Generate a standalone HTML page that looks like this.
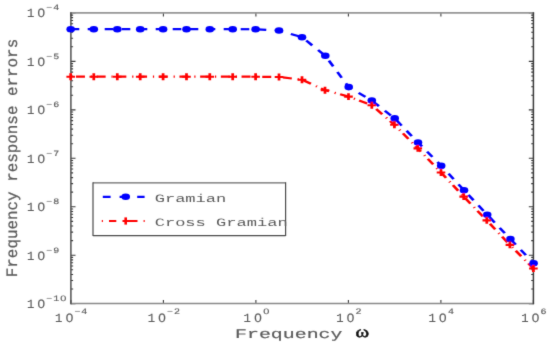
<!DOCTYPE html>
<html><head><meta charset="utf-8"><style>html,body{margin:0;padding:0;background:#fff;width:550px;height:346px;overflow:hidden}svg{display:block}</style></head>
<body>
<svg width="550" height="346" viewBox="0 0 550 346" text-rendering="geometricPrecision">
<rect width="550" height="346" fill="#fff"/>
<defs><filter id="soft" x="-4" y="-4" width="558" height="354" filterUnits="userSpaceOnUse"><feConvolveMatrix order="3" kernelMatrix="0.01134 0.08382 0.01134 0.08382 0.61935 0.08382 0.01134 0.08382 0.01134" divisor="1" edgeMode="none"/></filter></defs>
<g filter="url(#soft)">
<path d="M70.90 303.65V300.05M70.90 12.95V16.55M163.40 303.65V300.05M163.40 12.95V16.55M255.90 303.65V300.05M255.90 12.95V16.55M348.40 303.65V300.05M348.40 12.95V16.55M440.90 303.65V300.05M440.90 12.95V16.55M533.40 303.65V300.05M533.40 12.95V16.55M70.90 303.65H75.50M533.40 303.65H528.80M70.90 289.07H73.10M533.40 289.07H531.20M70.90 280.53H73.10M533.40 280.53H531.20M70.90 274.48H73.10M533.40 274.48H531.20M70.90 269.78H73.10M533.40 269.78H531.20M70.90 265.95H73.10M533.40 265.95H531.20M70.90 262.70H73.10M533.40 262.70H531.20M70.90 259.90H73.10M533.40 259.90H531.20M70.90 257.42H73.10M533.40 257.42H531.20M70.90 255.20H75.50M533.40 255.20H528.80M70.90 240.62H73.10M533.40 240.62H531.20M70.90 232.08H73.10M533.40 232.08H531.20M70.90 226.03H73.10M533.40 226.03H531.20M70.90 221.33H73.10M533.40 221.33H531.20M70.90 217.50H73.10M533.40 217.50H531.20M70.90 214.25H73.10M533.40 214.25H531.20M70.90 211.45H73.10M533.40 211.45H531.20M70.90 208.97H73.10M533.40 208.97H531.20M70.90 206.75H75.50M533.40 206.75H528.80M70.90 192.17H73.10M533.40 192.17H531.20M70.90 183.63H73.10M533.40 183.63H531.20M70.90 177.58H73.10M533.40 177.58H531.20M70.90 172.88H73.10M533.40 172.88H531.20M70.90 169.05H73.10M533.40 169.05H531.20M70.90 165.80H73.10M533.40 165.80H531.20M70.90 163.00H73.10M533.40 163.00H531.20M70.90 160.52H73.10M533.40 160.52H531.20M70.90 158.30H75.50M533.40 158.30H528.80M70.90 143.72H73.10M533.40 143.72H531.20M70.90 135.18H73.10M533.40 135.18H531.20M70.90 129.13H73.10M533.40 129.13H531.20M70.90 124.43H73.10M533.40 124.43H531.20M70.90 120.60H73.10M533.40 120.60H531.20M70.90 117.35H73.10M533.40 117.35H531.20M70.90 114.55H73.10M533.40 114.55H531.20M70.90 112.07H73.10M533.40 112.07H531.20M70.90 109.85H75.50M533.40 109.85H528.80M70.90 95.27H73.10M533.40 95.27H531.20M70.90 86.73H73.10M533.40 86.73H531.20M70.90 80.68H73.10M533.40 80.68H531.20M70.90 75.98H73.10M533.40 75.98H531.20M70.90 72.15H73.10M533.40 72.15H531.20M70.90 68.90H73.10M533.40 68.90H531.20M70.90 66.10H73.10M533.40 66.10H531.20M70.90 63.62H73.10M533.40 63.62H531.20M70.90 61.40H75.50M533.40 61.40H528.80M70.90 46.82H73.10M533.40 46.82H531.20M70.90 38.28H73.10M533.40 38.28H531.20M70.90 32.23H73.10M533.40 32.23H531.20M70.90 27.53H73.10M533.40 27.53H531.20M70.90 23.70H73.10M533.40 23.70H531.20M70.90 20.45H73.10M533.40 20.45H531.20M70.90 17.65H73.10M533.40 17.65H531.20M70.90 15.17H73.10M533.40 15.17H531.20M70.90 12.95H75.50M533.40 12.95H528.80" stroke="#3a3a3a" stroke-width="1.1" fill="none"/>
<path d="M70.20 12.85H534.10" stroke="#959595" stroke-width="1.6" fill="none"/>
<path d="M70.20 303.55H534.10" stroke="#8a8a8a" stroke-width="1.6" fill="none"/>
<path d="M70.90 12.35V304.25" stroke="#4c4c4c" stroke-width="1.45" fill="none"/>
<path d="M533.40 12.35V304.25" stroke="#3a3a3a" stroke-width="1.5" fill="none"/>
<text transform="translate(26.92,308.05) scale(0.970,1)" font-family="'Liberation Mono', monospace" font-size="12.6" fill="#5c5c5c" letter-spacing="3.1" stroke="#5c5c5c" stroke-width="0.15">1</text>
<text transform="translate(37.52,308.05) scale(1.115,1)" font-family="'Liberation Sans', sans-serif" font-size="12.096" fill="#5c5c5c" stroke="#5c5c5c" stroke-width="0.15">0</text>
<text transform="translate(46.27,301.15) scale(1.200,1)" font-family="'Liberation Mono', monospace" font-size="8.3" fill="#5c5c5c" letter-spacing="0.8" stroke="#5c5c5c" stroke-width="0.15">−1</text>
<text transform="translate(60.37,301.15) scale(1.380,1)" font-family="'Liberation Sans', sans-serif" font-size="7.968" fill="#5c5c5c" stroke="#5c5c5c" stroke-width="0.15">0</text>
<text transform="translate(26.92,259.60) scale(0.970,1)" font-family="'Liberation Mono', monospace" font-size="12.6" fill="#5c5c5c" letter-spacing="3.1" stroke="#5c5c5c" stroke-width="0.15">1</text>
<text transform="translate(37.52,259.60) scale(1.115,1)" font-family="'Liberation Sans', sans-serif" font-size="12.096" fill="#5c5c5c" stroke="#5c5c5c" stroke-width="0.15">0</text>
<text transform="translate(46.27,252.70) scale(1.200,1)" font-family="'Liberation Mono', monospace" font-size="8.3" fill="#5c5c5c" letter-spacing="0.8" stroke="#5c5c5c" stroke-width="0.15">−9</text>
<text transform="translate(26.92,211.15) scale(0.970,1)" font-family="'Liberation Mono', monospace" font-size="12.6" fill="#5c5c5c" letter-spacing="3.1" stroke="#5c5c5c" stroke-width="0.15">1</text>
<text transform="translate(37.52,211.15) scale(1.115,1)" font-family="'Liberation Sans', sans-serif" font-size="12.096" fill="#5c5c5c" stroke="#5c5c5c" stroke-width="0.15">0</text>
<text transform="translate(46.27,204.25) scale(1.200,1)" font-family="'Liberation Mono', monospace" font-size="8.3" fill="#5c5c5c" letter-spacing="0.8" stroke="#5c5c5c" stroke-width="0.15">−8</text>
<text transform="translate(26.92,162.70) scale(0.970,1)" font-family="'Liberation Mono', monospace" font-size="12.6" fill="#5c5c5c" letter-spacing="3.1" stroke="#5c5c5c" stroke-width="0.15">1</text>
<text transform="translate(37.52,162.70) scale(1.115,1)" font-family="'Liberation Sans', sans-serif" font-size="12.096" fill="#5c5c5c" stroke="#5c5c5c" stroke-width="0.15">0</text>
<text transform="translate(46.27,155.80) scale(1.200,1)" font-family="'Liberation Mono', monospace" font-size="8.3" fill="#5c5c5c" letter-spacing="0.8" stroke="#5c5c5c" stroke-width="0.15">−7</text>
<text transform="translate(26.92,114.25) scale(0.970,1)" font-family="'Liberation Mono', monospace" font-size="12.6" fill="#5c5c5c" letter-spacing="3.1" stroke="#5c5c5c" stroke-width="0.15">1</text>
<text transform="translate(37.52,114.25) scale(1.115,1)" font-family="'Liberation Sans', sans-serif" font-size="12.096" fill="#5c5c5c" stroke="#5c5c5c" stroke-width="0.15">0</text>
<text transform="translate(46.27,107.35) scale(1.200,1)" font-family="'Liberation Mono', monospace" font-size="8.3" fill="#5c5c5c" letter-spacing="0.8" stroke="#5c5c5c" stroke-width="0.15">−6</text>
<text transform="translate(26.92,65.80) scale(0.970,1)" font-family="'Liberation Mono', monospace" font-size="12.6" fill="#5c5c5c" letter-spacing="3.1" stroke="#5c5c5c" stroke-width="0.15">1</text>
<text transform="translate(37.52,65.80) scale(1.115,1)" font-family="'Liberation Sans', sans-serif" font-size="12.096" fill="#5c5c5c" stroke="#5c5c5c" stroke-width="0.15">0</text>
<text transform="translate(46.27,58.90) scale(1.200,1)" font-family="'Liberation Mono', monospace" font-size="8.3" fill="#5c5c5c" letter-spacing="0.8" stroke="#5c5c5c" stroke-width="0.15">−5</text>
<text transform="translate(26.92,17.35) scale(0.970,1)" font-family="'Liberation Mono', monospace" font-size="12.6" fill="#5c5c5c" letter-spacing="3.1" stroke="#5c5c5c" stroke-width="0.15">1</text>
<text transform="translate(37.52,17.35) scale(1.115,1)" font-family="'Liberation Sans', sans-serif" font-size="12.096" fill="#5c5c5c" stroke="#5c5c5c" stroke-width="0.15">0</text>
<text transform="translate(46.27,10.45) scale(1.200,1)" font-family="'Liberation Mono', monospace" font-size="8.3" fill="#5c5c5c" letter-spacing="0.8" stroke="#5c5c5c" stroke-width="0.15">−4</text>
<text transform="translate(55.08,321.70) scale(0.970,1)" font-family="'Liberation Mono', monospace" font-size="12.6" fill="#5c5c5c" letter-spacing="3.1" stroke="#5c5c5c" stroke-width="0.15">1</text>
<text transform="translate(65.68,321.70) scale(1.115,1)" font-family="'Liberation Sans', sans-serif" font-size="12.096" fill="#5c5c5c" stroke="#5c5c5c" stroke-width="0.15">0</text>
<text transform="translate(74.43,313.90) scale(1.200,1)" font-family="'Liberation Mono', monospace" font-size="8.3" fill="#5c5c5c" letter-spacing="0.8" stroke="#5c5c5c" stroke-width="0.15">−4</text>
<text transform="translate(147.68,321.70) scale(0.970,1)" font-family="'Liberation Mono', monospace" font-size="12.6" fill="#5c5c5c" letter-spacing="3.1" stroke="#5c5c5c" stroke-width="0.15">1</text>
<text transform="translate(158.28,321.70) scale(1.115,1)" font-family="'Liberation Sans', sans-serif" font-size="12.096" fill="#5c5c5c" stroke="#5c5c5c" stroke-width="0.15">0</text>
<text transform="translate(167.03,313.90) scale(1.200,1)" font-family="'Liberation Mono', monospace" font-size="8.3" fill="#5c5c5c" letter-spacing="0.8" stroke="#5c5c5c" stroke-width="0.15">−2</text>
<text transform="translate(243.62,321.70) scale(0.970,1)" font-family="'Liberation Mono', monospace" font-size="12.6" fill="#5c5c5c" letter-spacing="3.1" stroke="#5c5c5c" stroke-width="0.15">1</text>
<text transform="translate(254.22,321.70) scale(1.115,1)" font-family="'Liberation Sans', sans-serif" font-size="12.096" fill="#5c5c5c" stroke="#5c5c5c" stroke-width="0.15">0</text>
<text transform="translate(263.16,313.90) scale(1.380,1)" font-family="'Liberation Sans', sans-serif" font-size="7.968" fill="#5c5c5c" stroke="#5c5c5c" stroke-width="0.15">0</text>
<text transform="translate(336.21,321.70) scale(0.970,1)" font-family="'Liberation Mono', monospace" font-size="12.6" fill="#5c5c5c" letter-spacing="3.1" stroke="#5c5c5c" stroke-width="0.15">1</text>
<text transform="translate(346.81,321.70) scale(1.115,1)" font-family="'Liberation Sans', sans-serif" font-size="12.096" fill="#5c5c5c" stroke="#5c5c5c" stroke-width="0.15">0</text>
<text transform="translate(355.43,313.90) scale(1.200,1)" font-family="'Liberation Mono', monospace" font-size="8.3" fill="#5c5c5c" letter-spacing="0.8" stroke="#5c5c5c" stroke-width="0.15">2</text>
<text transform="translate(428.51,321.70) scale(0.970,1)" font-family="'Liberation Mono', monospace" font-size="12.6" fill="#5c5c5c" letter-spacing="3.1" stroke="#5c5c5c" stroke-width="0.15">1</text>
<text transform="translate(439.12,321.70) scale(1.115,1)" font-family="'Liberation Sans', sans-serif" font-size="12.096" fill="#5c5c5c" stroke="#5c5c5c" stroke-width="0.15">0</text>
<text transform="translate(447.93,313.90) scale(1.200,1)" font-family="'Liberation Mono', monospace" font-size="8.3" fill="#5c5c5c" letter-spacing="0.8" stroke="#5c5c5c" stroke-width="0.15">4</text>
<text transform="translate(521.20,321.70) scale(0.970,1)" font-family="'Liberation Mono', monospace" font-size="12.6" fill="#5c5c5c" letter-spacing="3.1" stroke="#5c5c5c" stroke-width="0.15">1</text>
<text transform="translate(531.80,321.70) scale(1.115,1)" font-family="'Liberation Sans', sans-serif" font-size="12.096" fill="#5c5c5c" stroke="#5c5c5c" stroke-width="0.15">0</text>
<text transform="translate(540.39,313.90) scale(1.200,1)" font-family="'Liberation Mono', monospace" font-size="8.3" fill="#5c5c5c" letter-spacing="0.8" stroke="#5c5c5c" stroke-width="0.15">6</text>
<text transform="translate(235.12,337.50) scale(1.506,1)" font-family="'Liberation Mono', monospace" font-size="13.2" fill="#5c5c5c" stroke="#5c5c5c" stroke-width="0.18">Frequency</text>
<text transform="translate(355.46,337.10) scale(1.300,1)" font-family="'Liberation Serif', serif" font-size="15.9" fill="#0a0a0a" stroke="#0a0a0a" stroke-width="0.45">ω</text>
<text transform="translate(16.8,277.21) rotate(-90) scale(1,1.0)" font-family="'Liberation Mono', monospace" font-size="15.9" fill="#5c5c5c" stroke="#5c5c5c" stroke-width="0.25">Frequency response errors</text>
<g transform="scale(1.3,1)">
<line x1="54.38" y1="29.20" x2="72.15" y2="29.20" stroke="#0000ff" stroke-width="2.2" stroke-dasharray="6.615 6.462" stroke-dashoffset="0.000"/>
<line x1="72.15" y1="29.20" x2="90.23" y2="29.20" stroke="#0000ff" stroke-width="2.2" stroke-dasharray="6.615 6.462" stroke-dashoffset="4.692"/>
<line x1="90.23" y1="29.20" x2="107.85" y2="29.20" stroke="#0000ff" stroke-width="2.2" stroke-dasharray="6.615 6.462" stroke-dashoffset="9.692"/>
<line x1="107.85" y1="29.20" x2="125.46" y2="29.20" stroke="#0000ff" stroke-width="2.2" stroke-dasharray="6.615 6.462" stroke-dashoffset="1.154"/>
<line x1="125.46" y1="29.20" x2="143.46" y2="29.20" stroke="#0000ff" stroke-width="2.2" stroke-dasharray="6.615 6.462" stroke-dashoffset="5.692"/>
<line x1="143.46" y1="29.20" x2="161.38" y2="29.20" stroke="#0000ff" stroke-width="2.2" stroke-dasharray="6.615 6.462" stroke-dashoffset="10.615"/>
<line x1="161.38" y1="29.20" x2="179.00" y2="29.20" stroke="#0000ff" stroke-width="2.2" stroke-dasharray="6.615 6.462" stroke-dashoffset="2.385"/>
<line x1="179.00" y1="29.20" x2="196.62" y2="29.20" stroke="#0000ff" stroke-width="2.2" stroke-dasharray="6.615 6.462" stroke-dashoffset="6.923"/>
<line x1="196.62" y1="29.20" x2="214.62" y2="30.50" stroke="#0000ff" stroke-width="2.2" stroke-dasharray="6.615 6.462" stroke-dashoffset="11.462"/>
<line x1="214.62" y1="30.50" x2="232.31" y2="37.20" stroke="#0000ff" stroke-width="2.2" stroke-dasharray="6.615 6.462" stroke-dashoffset="3.355"/>
<line x1="232.31" y1="37.20" x2="250.23" y2="55.80" stroke="#0000ff" stroke-width="2.2" stroke-dasharray="6.615 6.462" stroke-dashoffset="8.346"/>
<line x1="250.23" y1="55.80" x2="268.23" y2="87.10" stroke="#0000ff" stroke-width="2.2" stroke-dasharray="6.615 6.462" stroke-dashoffset="7.472"/>
<line x1="268.23" y1="87.10" x2="286.00" y2="100.60" stroke="#0000ff" stroke-width="2.2" stroke-dasharray="6.615 6.462" stroke-dashoffset="3.498"/>
<line x1="286.00" y1="100.60" x2="303.62" y2="118.40" stroke="#0000ff" stroke-width="2.2" stroke-dasharray="6.615 6.462" stroke-dashoffset="11.887"/>
<line x1="303.62" y1="118.40" x2="321.54" y2="142.50" stroke="#0000ff" stroke-width="2.2" stroke-dasharray="6.615 6.462" stroke-dashoffset="10.776"/>
<line x1="321.54" y1="142.50" x2="339.38" y2="165.70" stroke="#0000ff" stroke-width="2.2" stroke-dasharray="6.615 6.462" stroke-dashoffset="1.579"/>
<line x1="339.38" y1="165.70" x2="356.92" y2="190.20" stroke="#0000ff" stroke-width="2.2" stroke-dasharray="6.615 6.462" stroke-dashoffset="3.295"/>
<line x1="356.92" y1="190.20" x2="374.77" y2="214.70" stroke="#0000ff" stroke-width="2.2" stroke-dasharray="6.615 6.462" stroke-dashoffset="7.272"/>
<line x1="374.77" y1="214.70" x2="392.62" y2="239.00" stroke="#0000ff" stroke-width="2.2" stroke-dasharray="6.615 6.462" stroke-dashoffset="9.929"/>
<line x1="392.62" y1="239.00" x2="410.46" y2="263.20" stroke="#0000ff" stroke-width="2.2" stroke-dasharray="6.615 6.462" stroke-dashoffset="12.724"/>
<line x1="54.38" y1="76.70" x2="72.15" y2="76.70" stroke="#ff0000" stroke-width="2.2" stroke-dasharray="0.923 3.577 6.923 4.500" stroke-dashoffset="0.462"/>
<line x1="72.15" y1="76.70" x2="90.23" y2="76.70" stroke="#ff0000" stroke-width="2.2" stroke-dasharray="0.923 3.577 6.923 4.500" stroke-dashoffset="2.308"/>
<line x1="90.23" y1="76.70" x2="107.85" y2="76.70" stroke="#ff0000" stroke-width="2.2" stroke-dasharray="0.923 3.577 6.923 4.500" stroke-dashoffset="4.462"/>
<line x1="107.85" y1="76.70" x2="125.46" y2="76.70" stroke="#ff0000" stroke-width="2.2" stroke-dasharray="0.923 3.577 6.923 4.500" stroke-dashoffset="6.154"/>
<line x1="125.46" y1="76.70" x2="143.46" y2="76.70" stroke="#ff0000" stroke-width="2.2" stroke-dasharray="0.923 3.577 6.923 4.500" stroke-dashoffset="7.846"/>
<line x1="143.46" y1="76.70" x2="161.38" y2="76.70" stroke="#ff0000" stroke-width="2.2" stroke-dasharray="0.923 3.577 6.923 4.500" stroke-dashoffset="9.923"/>
<line x1="161.38" y1="76.70" x2="179.00" y2="76.70" stroke="#ff0000" stroke-width="2.2" stroke-dasharray="0.923 3.577 6.923 4.500" stroke-dashoffset="11.923"/>
<line x1="179.00" y1="76.70" x2="196.62" y2="76.70" stroke="#ff0000" stroke-width="2.2" stroke-dasharray="0.923 3.577 6.923 4.500" stroke-dashoffset="13.615"/>
<line x1="196.62" y1="76.70" x2="214.62" y2="77.00" stroke="#ff0000" stroke-width="2.2" stroke-dasharray="0.923 3.577 6.923 4.500" stroke-dashoffset="15.308"/>
<line x1="214.62" y1="77.00" x2="232.31" y2="79.70" stroke="#ff0000" stroke-width="2.2" stroke-dasharray="0.923 3.577 6.923 4.500" stroke-dashoffset="1.464"/>
<line x1="232.31" y1="79.70" x2="250.00" y2="90.20" stroke="#ff0000" stroke-width="2.2" stroke-dasharray="0.923 3.577 6.923 4.500" stroke-dashoffset="3.438"/>
<line x1="250.00" y1="90.20" x2="268.08" y2="96.60" stroke="#ff0000" stroke-width="2.2" stroke-dasharray="0.923 3.577 6.923 4.500" stroke-dashoffset="8.089"/>
<line x1="268.08" y1="96.60" x2="286.00" y2="105.30" stroke="#ff0000" stroke-width="2.2" stroke-dasharray="0.923 3.577 6.923 4.500" stroke-dashoffset="11.342"/>
<line x1="286.00" y1="105.30" x2="303.38" y2="124.70" stroke="#ff0000" stroke-width="2.2" stroke-dasharray="0.923 3.577 6.923 4.500" stroke-dashoffset="15.342"/>
<line x1="303.38" y1="124.70" x2="321.38" y2="148.40" stroke="#ff0000" stroke-width="2.2" stroke-dasharray="0.923 3.577 6.923 4.500" stroke-dashoffset="9.545"/>
<line x1="321.38" y1="148.40" x2="339.23" y2="172.50" stroke="#ff0000" stroke-width="2.2" stroke-dasharray="0.923 3.577 6.923 4.500" stroke-dashoffset="7.460"/>
<line x1="339.23" y1="172.50" x2="356.69" y2="196.60" stroke="#ff0000" stroke-width="2.2" stroke-dasharray="0.923 3.577 6.923 4.500" stroke-dashoffset="4.802"/>
<line x1="356.69" y1="196.60" x2="374.46" y2="220.40" stroke="#ff0000" stroke-width="2.2" stroke-dasharray="0.923 3.577 6.923 4.500" stroke-dashoffset="2.717"/>
<line x1="374.46" y1="220.40" x2="392.23" y2="244.90" stroke="#ff0000" stroke-width="2.2" stroke-dasharray="0.923 3.577 6.923 4.500" stroke-dashoffset="0.372"/>
<line x1="392.23" y1="244.90" x2="410.31" y2="268.50" stroke="#ff0000" stroke-width="2.2" stroke-dasharray="0.923 3.577 6.923 4.500" stroke-dashoffset="13.014"/>
<circle cx="54.38" cy="29.20" r="3.3" fill="#0000ff"/>
<circle cx="72.15" cy="29.20" r="3.3" fill="#0000ff"/>
<circle cx="90.23" cy="29.20" r="3.3" fill="#0000ff"/>
<circle cx="107.85" cy="29.20" r="3.3" fill="#0000ff"/>
<circle cx="125.46" cy="29.20" r="3.3" fill="#0000ff"/>
<circle cx="143.46" cy="29.20" r="3.3" fill="#0000ff"/>
<circle cx="161.38" cy="29.20" r="3.3" fill="#0000ff"/>
<circle cx="179.00" cy="29.20" r="3.3" fill="#0000ff"/>
<circle cx="196.62" cy="29.20" r="3.3" fill="#0000ff"/>
<circle cx="214.62" cy="30.50" r="3.3" fill="#0000ff"/>
<circle cx="232.31" cy="37.20" r="3.3" fill="#0000ff"/>
<circle cx="250.23" cy="55.80" r="3.3" fill="#0000ff"/>
<circle cx="268.23" cy="87.10" r="3.3" fill="#0000ff"/>
<circle cx="286.00" cy="100.60" r="3.3" fill="#0000ff"/>
<circle cx="303.62" cy="118.40" r="3.3" fill="#0000ff"/>
<circle cx="321.54" cy="142.50" r="3.3" fill="#0000ff"/>
<circle cx="339.38" cy="165.70" r="3.3" fill="#0000ff"/>
<circle cx="356.92" cy="190.20" r="3.3" fill="#0000ff"/>
<circle cx="374.77" cy="214.70" r="3.3" fill="#0000ff"/>
<circle cx="392.62" cy="239.00" r="3.3" fill="#0000ff"/>
<circle cx="410.46" cy="263.20" r="3.3" fill="#0000ff"/>
<path d="M51.08 76.70H57.68M54.38 73.25V80.15" stroke="#ff0000" stroke-width="2.1" fill="none"/>
<path d="M68.85 76.70H75.45M72.15 73.25V80.15" stroke="#ff0000" stroke-width="2.1" fill="none"/>
<path d="M86.93 76.70H93.53M90.23 73.25V80.15" stroke="#ff0000" stroke-width="2.1" fill="none"/>
<path d="M104.55 76.70H111.15M107.85 73.25V80.15" stroke="#ff0000" stroke-width="2.1" fill="none"/>
<path d="M122.16 76.70H128.76M125.46 73.25V80.15" stroke="#ff0000" stroke-width="2.1" fill="none"/>
<path d="M140.16 76.70H146.76M143.46 73.25V80.15" stroke="#ff0000" stroke-width="2.1" fill="none"/>
<path d="M158.08 76.70H164.68M161.38 73.25V80.15" stroke="#ff0000" stroke-width="2.1" fill="none"/>
<path d="M175.70 76.70H182.30M179.00 73.25V80.15" stroke="#ff0000" stroke-width="2.1" fill="none"/>
<path d="M193.32 76.70H199.92M196.62 73.25V80.15" stroke="#ff0000" stroke-width="2.1" fill="none"/>
<path d="M211.32 77.00H217.92M214.62 73.55V80.45" stroke="#ff0000" stroke-width="2.1" fill="none"/>
<path d="M229.01 79.70H235.61M232.31 76.25V83.15" stroke="#ff0000" stroke-width="2.1" fill="none"/>
<path d="M246.70 90.20H253.30M250.00 86.75V93.65" stroke="#ff0000" stroke-width="2.1" fill="none"/>
<path d="M264.78 96.60H271.38M268.08 93.15V100.05" stroke="#ff0000" stroke-width="2.1" fill="none"/>
<path d="M282.70 105.30H289.30M286.00 101.85V108.75" stroke="#ff0000" stroke-width="2.1" fill="none"/>
<path d="M300.08 124.70H306.68M303.38 121.25V128.15" stroke="#ff0000" stroke-width="2.1" fill="none"/>
<path d="M318.08 148.40H324.68M321.38 144.95V151.85" stroke="#ff0000" stroke-width="2.1" fill="none"/>
<path d="M335.93 172.50H342.53M339.23 169.05V175.95" stroke="#ff0000" stroke-width="2.1" fill="none"/>
<path d="M353.39 196.60H359.99M356.69 193.15V200.05" stroke="#ff0000" stroke-width="2.1" fill="none"/>
<path d="M371.16 220.40H377.76M374.46 216.95V223.85" stroke="#ff0000" stroke-width="2.1" fill="none"/>
<path d="M388.93 244.90H395.53M392.23 241.45V248.35" stroke="#ff0000" stroke-width="2.1" fill="none"/>
<path d="M407.01 268.50H413.61M410.31 265.05V271.95" stroke="#ff0000" stroke-width="2.1" fill="none"/>
</g>
<path d="M93.0 182.85H285.6" stroke="#6a6a6a" stroke-width="1.1" fill="none"/>
<path d="M93.0 235.6H285.6" stroke="#4a4a4a" stroke-width="1.1" fill="none"/>
<path d="M93.0 182.35V236.1M285.6 182.35V236.1" stroke="#4a4a4a" stroke-width="1.2" fill="none"/>
<path d="M102.8 196.8H110.6M119.6 196.8H129.5M137.2 196.8H144.6" stroke="#0000ff" stroke-width="2.2" fill="none"/>
<ellipse cx="125.7" cy="196.8" rx="4.3" ry="3.3" fill="#0000ff"/>
<path d="M101.8 221H102.9M109.0 221H116.3M122.5 221H137.5M143.6 221H144.7" stroke="#ff0000" stroke-width="2.2" fill="none"/>
<path d="M125.7 217.4V224.6" stroke="#ff0000" stroke-width="2.6" fill="none"/>
<text transform="translate(154.66,201.60) scale(1.497,1)" font-family="'Liberation Mono', monospace" font-size="11.4" fill="#5c5c5c" >Gramian</text>
<text transform="translate(154.66,226.20) scale(1.497,1)" font-family="'Liberation Mono', monospace" font-size="11.4" fill="#5c5c5c" >Cross Gramian</text>
</g>
</svg>
</body></html>
